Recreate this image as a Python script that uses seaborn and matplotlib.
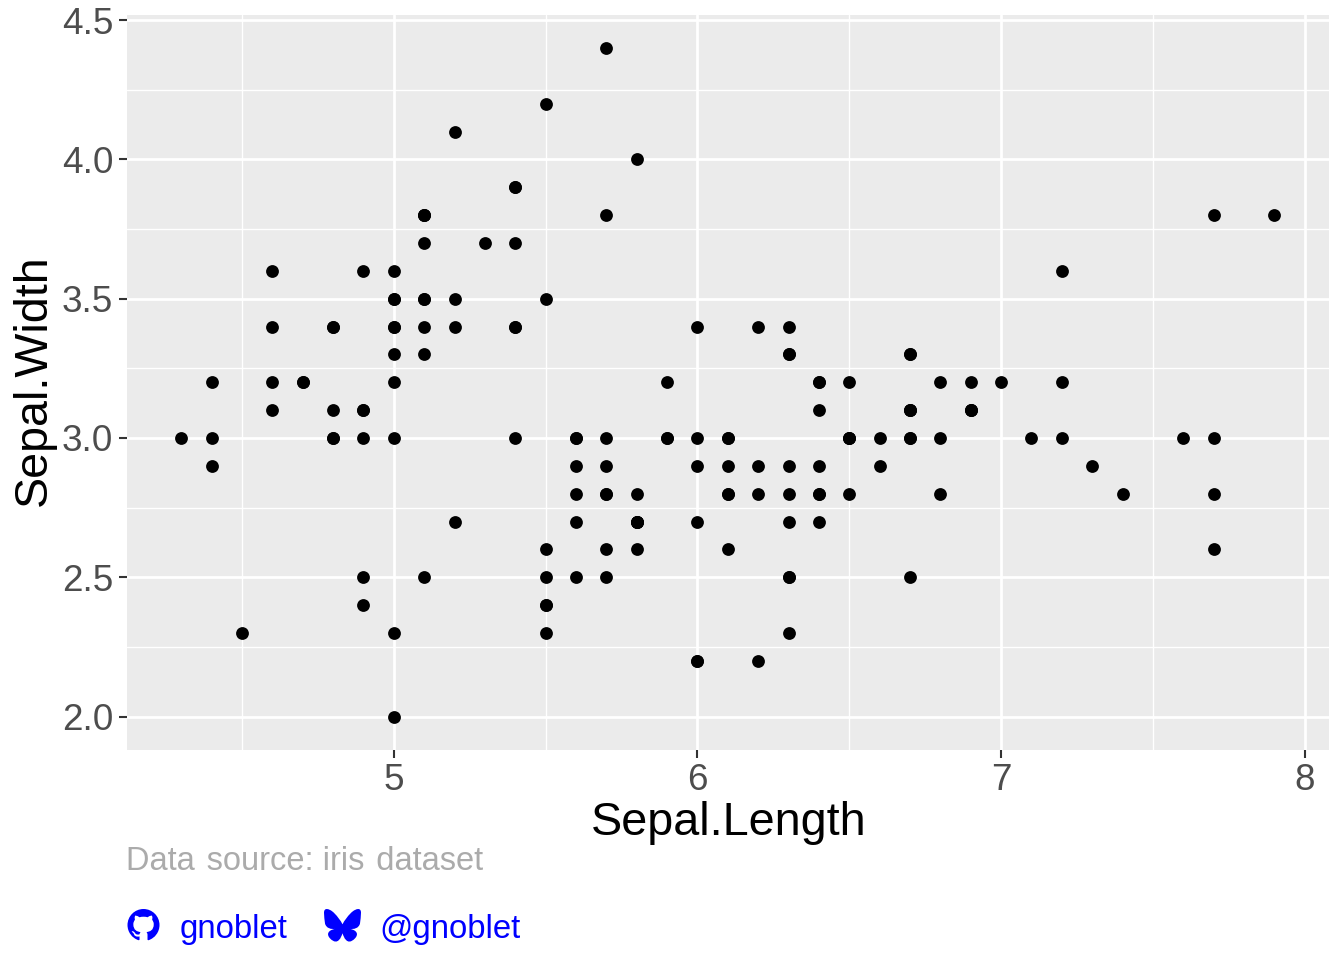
import re
import matplotlib
matplotlib.use("Agg")
import matplotlib.pyplot as plt
import seaborn as sns
from matplotlib.patches import PathPatch
from matplotlib.path import Path
from matplotlib.transforms import Affine2D

sepal_length = [
    5.1, 4.9, 4.7, 4.6, 5.0, 5.4, 4.6, 5.0, 4.4, 4.9, 5.4, 4.8, 4.8, 4.3, 5.8, 5.7, 5.4, 5.1, 5.7, 5.1,
    5.4, 5.1, 4.6, 5.1, 4.8, 5.0, 5.0, 5.2, 5.2, 4.7, 4.8, 5.4, 5.2, 5.5, 4.9, 5.0, 5.5, 4.9, 4.4, 5.1,
    5.0, 4.5, 4.4, 5.0, 5.1, 4.8, 5.1, 4.6, 5.3, 5.0,
    7.0, 6.4, 6.9, 5.5, 6.5, 5.7, 6.3, 4.9, 6.6, 5.2, 5.0, 5.9, 6.0, 6.1, 5.6, 6.7, 5.6, 5.8, 6.2, 5.6,
    5.9, 6.1, 6.3, 6.1, 6.4, 6.6, 6.8, 6.7, 6.0, 5.7, 5.5, 5.5, 5.8, 6.0, 5.4, 6.0, 6.7, 6.3, 5.6, 5.5,
    5.5, 6.1, 5.8, 5.0, 5.6, 5.7, 5.7, 6.2, 5.1, 5.7,
    6.3, 5.8, 7.1, 6.3, 6.5, 7.6, 4.9, 7.3, 6.7, 7.2, 6.5, 6.4, 6.8, 5.7, 5.8, 6.4, 6.5, 7.7, 7.7, 6.0,
    6.9, 5.6, 7.7, 6.3, 6.7, 7.2, 6.2, 6.1, 6.4, 7.2, 7.4, 7.9, 6.4, 6.3, 6.1, 7.7, 6.3, 6.4, 6.0, 6.9,
    6.7, 6.9, 5.8, 6.8, 6.7, 6.7, 6.3, 6.5, 6.2, 5.9,
]
sepal_width = [
    3.5, 3.0, 3.2, 3.1, 3.6, 3.9, 3.4, 3.4, 2.9, 3.1, 3.7, 3.4, 3.0, 3.0, 4.0, 4.4, 3.9, 3.5, 3.8, 3.8,
    3.4, 3.7, 3.6, 3.3, 3.4, 3.0, 3.4, 3.5, 3.4, 3.2, 3.1, 3.4, 4.1, 4.2, 3.1, 3.2, 3.5, 3.6, 3.0, 3.4,
    3.5, 2.3, 3.2, 3.5, 3.8, 3.0, 3.8, 3.2, 3.7, 3.3,
    3.2, 3.2, 3.1, 2.3, 2.8, 2.8, 3.3, 2.4, 2.9, 2.7, 2.0, 3.0, 2.2, 2.9, 2.9, 3.1, 3.0, 2.7, 2.2, 2.5,
    3.2, 2.8, 2.5, 2.8, 2.9, 3.0, 2.8, 3.0, 2.9, 2.6, 2.4, 2.4, 2.7, 2.7, 3.0, 3.4, 3.1, 2.3, 3.0, 2.5,
    2.6, 3.0, 2.6, 2.3, 2.7, 3.0, 2.9, 2.9, 2.5, 2.8,
    3.3, 2.7, 3.0, 2.9, 3.0, 3.0, 2.5, 2.9, 2.5, 3.6, 3.2, 2.7, 3.0, 2.5, 2.8, 3.2, 3.0, 3.8, 2.6, 2.2,
    3.2, 2.8, 2.8, 2.7, 3.3, 3.2, 2.8, 3.0, 2.8, 3.0, 2.8, 3.8, 2.8, 2.8, 2.6, 3.0, 3.4, 3.1, 3.0, 3.1,
    3.1, 3.1, 2.7, 3.2, 3.3, 3.0, 2.5, 3.0, 3.4, 3.0,
]
x_major = [5, 6, 7, 8]
x_minor = [4.5, 5.5, 6.5, 7.5]
y_major = [2.0, 2.5, 3.0, 3.5, 4.0, 4.5]
y_minor = [2.25, 2.75, 3.25, 3.75, 4.25]

GITHUB = ("M8 0C3.58 0 0 3.58 0 8c0 3.54 2.29 6.53 5.47 7.59.4.07.55-.17.55-.38 0-.19-.01-.82-.01-1.49"
          "-2.01.37-2.53-.49-2.69-.94-.09-.23-.48-.94-.82-1.13-.28-.15-.68-.52-.01-.53.63-.01 1.08.58 1.23.82"
          ".72 1.21 1.87.87 2.33.66.07-.52.28-.87.51-1.07-1.78-.2-3.64-.89-3.64-3.95 0-.87.31-1.59.82-2.15"
          "-.08-.2-.36-1.02.08-2.12 0 0 .67-.21 2.2.82.64-.18 1.32-.27 2-.27.68 0 1.36.09 2 .27 1.53-1.04 2.2-.82 2.2-.82"
          ".44 1.1.16 1.92.08 2.12.51.56.82 1.27.82 2.15 0 3.07-1.87 3.75-3.65 3.95.29.25.54.73.54 1.48 0 1.07-.01 1.93-.01 2.2"
          " 0 .21.15.46.55.38C13.71 14.53 16 11.54 16 8c0-4.42-3.58-8-8-8z")
BUTTERFLY = ("M123.121 33.664C188.241 82.553 258.281 181.68 284 234.873c25.719-53.192 95.759-152.32 160.879-201.21"
             "C491.866-1.611 568-28.906 568 57.947c0 17.346-9.945 145.713-15.778 166.555-20.275 72.453-94.155 90.933-159.875 79.748"
             "C507.222 323.8 536.444 388.56 473.333 453.32c-119.86 122.992-172.272-30.859-185.702-70.281"
             "-2.462-7.227-3.614-10.608-3.631-7.733-.017-2.875-1.169.506-3.631 7.733-13.43 39.422-65.842 193.273-185.702 70.281"
             "-63.111-64.76-33.89-129.52 80.986-149.071-65.72 11.185-139.6-7.295-159.875-79.748"
             "C9.945 203.659 0 75.291 0 57.946 0-28.906 76.135-1.612 123.121 33.664Z")


def svg_to_path(d):
    # only M, C, c and z are used by the two icons
    verts, codes = [], []
    cur = (0.0, 0.0)
    for cmd, args in re.findall(r"([MCcZz])([^MCcZz]*)", d):
        nums = [float(n) for n in re.findall(r"-?\d*\.?\d+", args)]
        if cmd == "M":
            cur = (nums[0], nums[1])
            verts.append(cur)
            codes.append(Path.MOVETO)
        elif cmd in "Cc":
            for i in range(0, len(nums), 6):
                base = cur if cmd == "c" else (0.0, 0.0)
                pts = [(base[0] + nums[i + j], base[1] + nums[i + j + 1]) for j in (0, 2, 4)]
                verts.extend(pts)
                codes.extend([Path.CURVE4] * 3)
                cur = pts[-1]
        else:
            verts.append(cur)
            codes.append(Path.CLOSEPOLY)
    return Path(verts, codes)


def add_icon(fig, d, scale, x, y):
    # x, y: top left corner in pixels from the top of the image
    tr = Affine2D().scale(scale, -scale).translate(x, H - y)
    fig.add_artist(PathPatch(svg_to_path(d), facecolor="#0000FF", edgecolor="none", transform=tr))


W, H = 1344, 960
sns.set_theme(style="darkgrid")
plt.rcParams["font.family"] = ["Liberation Sans", "DejaVu Sans"]

fig = plt.figure(figsize=(W / 100, H / 100), dpi=100, facecolor="white")
ax = fig.add_axes([126.6 / W, 1 - 750 / H, (1329 - 126.6) / W, (750 - 14.5) / H])
ax.set_facecolor("#EBEBEB")

sns.scatterplot(x=sepal_length, y=sepal_width, color="black", s=85, linewidth=0, ax=ax, zorder=3)

ax.set_xlim(4.12, 8.08)
ax.set_ylim(1.88, 4.52)
ax.set_xticks(x_major)
ax.set_xticks(x_minor, minor=True)
ax.set_yticks(y_major)
ax.set_yticklabels([f"{v:.1f}" for v in y_major])
ax.set_yticks(y_minor, minor=True)
ax.grid(which="major", color="white", linewidth=2.0)
ax.grid(which="minor", color="white", linewidth=1.0)
ax.set_axisbelow(True)
for s in ax.spines.values():
    s.set_visible(False)
ax.tick_params(which="major", bottom=True, left=True, length=5.6, width=1.5, color="#333333",
               labelsize=26.6, labelcolor="#4D4D4D", pad=4)
ax.tick_params(which="minor", length=0)

ax.set_xlabel("Sepal.Length", fontsize=33.7, color="black", labelpad=2.2)
ax.xaxis.label.set_x(0.5 + 1 / 1202)
ax.set_ylabel("Sepal.Width", fontsize=33.6, color="black", labelpad=4.5)
ax.yaxis.label.set_y(0.5 + 2.5 / 735)

fig.text(126 / W, 1 - 870 / H, "Data \u200asource: iris \u200adataset", fontsize=23.5, color="#ABABAB", va="baseline")
fig.text(180 / W, 1 - 938 / H, "gnoblet", fontsize=23.7, color="#0000FF", va="baseline")
fig.text(379.5 / W, 1 - 938 / H, "@gnoblet", fontsize=23.7, color="#0000FF", va="baseline")
add_icon(fig, GITHUB, 2.0, 127.5, 909)
add_icon(fig, BUTTERFLY, 37 / 568, 324, 909)

fig.savefig("out.png", dpi=100)
